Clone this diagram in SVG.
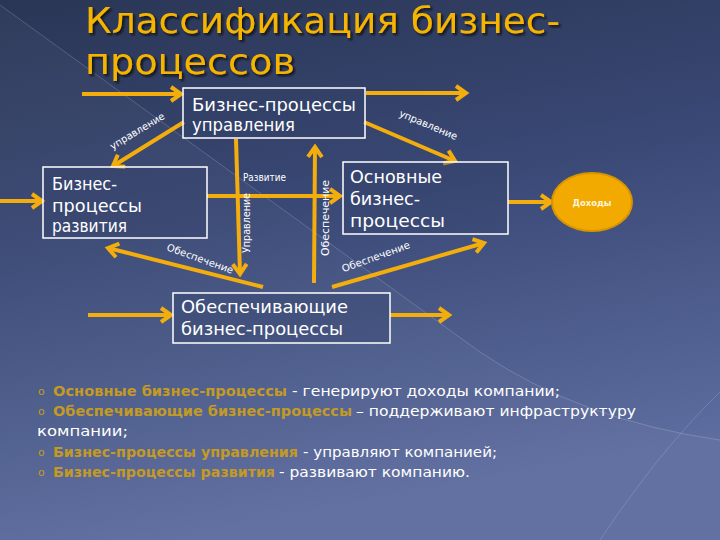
<svg xmlns="http://www.w3.org/2000/svg" width="720" height="540" viewBox="0 0 720 540">
<defs>
<linearGradient id="bg" x1="0" y1="0" x2="0.25" y2="1">
<stop offset="0" stop-color="#2a3655"/>
<stop offset="0.45" stop-color="#394875"/>
<stop offset="1" stop-color="#5d6d9f"/>
</linearGradient>
<marker id="ah" markerUnits="userSpaceOnUse" markerWidth="22" markerHeight="22" viewBox="0 0 22 22" refX="16" refY="11" orient="auto">
<path d="M6,4 L16,11 L6,18" fill="none" stroke="#f3ad0c" stroke-width="4"/>
</marker>
<filter id="sh" x="-5%" y="-20%" width="110%" height="140%">
<feDropShadow dx="2" dy="2" stdDeviation="0.8" flood-color="#101010" flood-opacity="0.9"/>
</filter>
</defs>
<style>
.box{fill:#33416a;fill-opacity:0.35;stroke:#ffffff;stroke-width:1.5}
.nt{font-family:"DejaVu Sans","Noto Sans",sans-serif;font-size:18px;fill:#ffffff}
.lb{font-family:"DejaVu Sans","Noto Sans",sans-serif;font-size:10px;fill:#ffffff}
.con{stroke:#f3ad0c;stroke-width:4;fill:none;marker-end:url(#ah)}
.title{font-family:"DejaVu Sans","Noto Sans",sans-serif;font-size:35px;fill:#f5b400}
.bt{font-family:"DejaVu Sans","Noto Sans",sans-serif;font-size:14px;fill:#ffffff}
.bg{font-family:"DejaVu Sans","Noto Sans",sans-serif;font-size:14px;font-weight:bold;fill:#c39a24}
.bul{font-family:"DejaVu Sans","Noto Sans",sans-serif;font-size:11px;fill:#c39a24}
</style>
<rect width="720" height="540" fill="url(#bg)"/>
<path d="M0,5 L480,352 Q580,420 720,440 L720,540 L0,540 Z" fill="#ffffff" fill-opacity="0.03"/>
<path d="M0,5 L480,352 Q580,420 720,440" fill="none" stroke="#ffffff" stroke-opacity="0.18" stroke-width="1"/>
<path d="M720,392 Q660,450 600,540" fill="none" stroke="#ffffff" stroke-opacity="0.15" stroke-width="1"/>

<g id="title" filter="url(#sh)">
<text class="title" x="85" y="33" textLength="475" lengthAdjust="spacingAndGlyphs">Классификация бизнес-</text>
<text class="title" x="85" y="74" textLength="210" lengthAdjust="spacingAndGlyphs">процессов</text>
</g>

<g id="connectors">
<path class="con" d="M82,94 L181,94"/>
<path class="con" d="M366,93 L466,93"/>
<path class="con" d="M184,122 L113,166"/>
<path class="con" d="M364,122 L455,161"/>
<path class="con" d="M236,139 L240,274"/>
<path class="con" d="M207,196 L340,196"/>
<path class="con" d="M314,283 L315,147"/>
<path class="con" d="M263,287 L108,248"/>
<path class="con" d="M332,287 L484,243"/>
<path class="con" d="M508,202 L551,202"/>
<path class="con" d="M0,201 L42,201"/>
<path class="con" d="M88,315 L171,315"/>
<path class="con" d="M390,315 L449,315"/>
<text class="lb" transform="translate(139,134) rotate(-31)" text-anchor="middle" textLength="62" lengthAdjust="spacingAndGlyphs">управление</text>
<text class="lb" transform="translate(427,128) rotate(23)" text-anchor="middle" textLength="62" lengthAdjust="spacingAndGlyphs">управление</text>
<text class="lb" x="243" y="181" textLength="43" lengthAdjust="spacingAndGlyphs">Развитие</text>
<text class="lb" transform="translate(250,223) rotate(-90)" text-anchor="middle" textLength="60" lengthAdjust="spacingAndGlyphs">Управление</text>
<text class="lb" transform="translate(329,218) rotate(-90)" text-anchor="middle" textLength="76" lengthAdjust="spacingAndGlyphs">Обеспечение</text>
<text class="lb" transform="translate(199,262) rotate(20)" text-anchor="middle" textLength="70" lengthAdjust="spacingAndGlyphs">Обеспечение</text>
<text class="lb" transform="translate(377,260) rotate(-20)" text-anchor="middle" textLength="72" lengthAdjust="spacingAndGlyphs">Обеспечение</text>
</g>

<g id="node-upravl">
<rect class="box" x="183" y="88" width="182" height="50"/>
<text class="nt" x="192" y="111" textLength="164" lengthAdjust="spacingAndGlyphs">Бизнес-процессы</text>
<text class="nt" x="192" y="131" textLength="103" lengthAdjust="spacingAndGlyphs">управления</text>
</g>
<g id="node-razv">
<rect class="box" x="43" y="167" width="164" height="71"/>
<text class="nt" x="52" y="190" textLength="65" lengthAdjust="spacingAndGlyphs">Бизнес-</text>
<text class="nt" x="52" y="212" textLength="90" lengthAdjust="spacingAndGlyphs">процессы</text>
<text class="nt" x="52" y="232" textLength="75" lengthAdjust="spacingAndGlyphs">развития</text>
</g>
<g id="node-osn">
<rect class="box" x="343" y="162" width="165" height="72"/>
<text class="nt" x="350" y="183" textLength="92" lengthAdjust="spacingAndGlyphs">Основные</text>
<text class="nt" x="350" y="205" textLength="70" lengthAdjust="spacingAndGlyphs">бизнес-</text>
<text class="nt" x="350" y="227" textLength="95" lengthAdjust="spacingAndGlyphs">процессы</text>
</g>
<g id="node-obesp">
<rect class="box" x="173" y="293" width="217" height="50"/>
<text class="nt" x="181" y="313" textLength="167" lengthAdjust="spacingAndGlyphs">Обеспечивающие</text>
<text class="nt" x="181" y="335" textLength="162" lengthAdjust="spacingAndGlyphs">бизнес-процессы</text>
</g>
<g id="node-dohody">
<ellipse cx="592" cy="202" rx="40" ry="29" fill="#f2a900" stroke="#d89400" stroke-width="2"/>
<text x="592" y="206" text-anchor="middle" font-family="DejaVu Sans, sans-serif" font-size="9" font-weight="bold" fill="#fff6d8" textLength="39" lengthAdjust="spacingAndGlyphs">Доходы</text>
</g>

<g id="legend">
<text class="bul" x="38" y="395">o</text>
<text class="bg" x="53" y="396" textLength="234" lengthAdjust="spacingAndGlyphs">Основные бизнес-процессы</text>
<text class="bt" x="292" y="396" textLength="268" lengthAdjust="spacingAndGlyphs">- генерируют доходы компании;</text>
<text class="bul" x="38" y="415">o</text>
<text class="bg" x="53" y="416" textLength="299" lengthAdjust="spacingAndGlyphs">Обеспечивающие бизнес-процессы</text>
<text class="bt" x="356" y="416" textLength="280" lengthAdjust="spacingAndGlyphs">– поддерживают инфраструктуру</text>
<text class="bt" x="37" y="436" textLength="91" lengthAdjust="spacingAndGlyphs">компании;</text>
<text class="bul" x="38" y="456">o</text>
<text class="bg" x="53" y="457" textLength="245" lengthAdjust="spacingAndGlyphs">Бизнес-процессы управления</text>
<text class="bt" x="303" y="457" textLength="194" lengthAdjust="spacingAndGlyphs">- управляют компанией;</text>
<text class="bul" x="38" y="476">o</text>
<text class="bg" x="53" y="477" textLength="222" lengthAdjust="spacingAndGlyphs">Бизнес-процессы развития</text>
<text class="bt" x="279" y="477" textLength="191" lengthAdjust="spacingAndGlyphs">- развивают компанию.</text>
</g>
</svg>
